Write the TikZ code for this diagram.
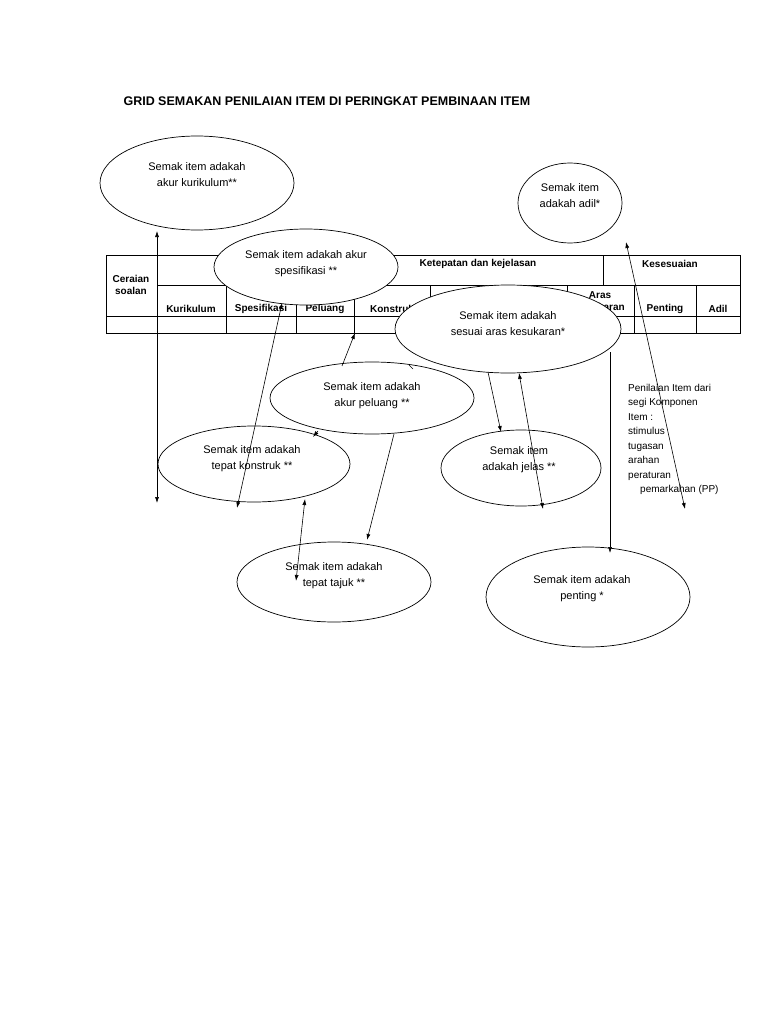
\documentclass[tikz,border=0pt]{standalone}
\usepackage{fontspec}
\setmainfont{Liberation Sans}
\usetikzlibrary{arrows.meta}
\begin{document}
\begin{tikzpicture}[x=1pt,y=-1pt,
  ell/.style={draw,fill=white,line width=0.7pt},
  lbl/.style={align=center,font=\fontsize{11}{16}\selectfont,inner sep=0pt},
  th/.style={font=\bfseries\fontsize{10}{12}\selectfont,inner sep=0pt,align=center},
  arr/.style={line width=0.6pt,-{Latex[length=6pt,width=4pt]}},
  darr/.style={line width=0.6pt,{Latex[length=6pt,width=4pt]}-{Latex[length=6pt,width=4pt]}}]
\useasboundingbox (0,0) rectangle (768,1024);
\fill[white] (0,0) rectangle (768,1024);
\node[font=\bfseries\fontsize{12.5}{14}\selectfont,anchor=west] (title) at (120,101) {GRID SEMAKAN PENILAIAN ITEM DI PERINGKAT PEMBINAAN ITEM};
% table
\draw[line width=0.8pt] (106,255) rectangle (740,333);
\draw (157,255) -- (157,333);
\draw (157,285) -- (740,285);
\draw (106,316) -- (740,316);
\draw (603,255) -- (603,285);
\foreach \x in {226,296,354,430,477,567,634,696} \draw (\x,285) -- (\x,333);
\node[th] (cer) at (131,285) {Ceraian\\soalan};
\node[th] (ket) at (478,264) {Ketepatan dan kejelasan};
\node[th] (kes) at (670,264) {Kesesuaian};
\node[th] (h1) at (191,309) {Kurikulum};
\node[th] (h2) at (261,309) {Spesifikasi};
\node[th] (h3) at (325,309) {Peluang};
\node[th] (h4) at (392,309) {Konstruk};
\node[th] (h5) at (453,309) {Tajuk};
\node[th] (h6) at (522,301) {Kejelasan};
\node[th] (h7) at (600,301) {Aras\\kesukaran};
\node[th] (h8) at (665,309) {Penting};
\node[th] (h9) at (718,309) {Adil};
% ellipses
\draw[ell] (197,183) ellipse [x radius=97,y radius=47];
\draw[ell] (570,203) ellipse [x radius=52,y radius=40];
\draw[ell] (306,267) ellipse [x radius=92,y radius=38];
\draw[ell] (508,329) ellipse [x radius=113,y radius=44];
\draw[ell] (372,398) ellipse [x radius=102,y radius=36];
\draw[ell] (254,464) ellipse [x radius=96,y radius=38];
\draw[ell] (521,468) ellipse [x radius=80,y radius=38];
\draw[ell] (334,582) ellipse [x radius=97,y radius=40];
\draw[ell] (588,597) ellipse [x radius=102,y radius=50];
\node[lbl] (kur) at (197,175) {Semak item adakah\\akur kurikulum**};
\node[lbl] (adil) at (570,196) {Semak item\\adakah adil*};
\node[lbl] (spes) at (306,264) {Semak item adakah akur\\spesifikasi **};
\node[lbl] (aras) at (508,324) {Semak item adakah\\sesuai aras kesukaran*};
\node[lbl] (pel) at (372,396) {Semak item adakah\\akur peluang **};
\node[lbl] (kon) at (252,459) {Semak item adakah\\tepat konstruk **};
\node[lbl] (jel) at (519,460) {Semak item\\adakah jelas **};
\node[lbl] (taj) at (334,576) {Semak item adakah\\tepat tajuk **};
\node[lbl] (pen) at (582,589) {Semak item adakah\\penting *};
\node[align=left,anchor=north west,font=\fontsize{10}{14.5}\selectfont,inner sep=0pt] (note) at (628,384)
 {Penilaian Item dari\\segi Komponen\\Item :\\stimulus\\tugasan\\arahan\\peraturan\\\hspace*{12pt}pemarkahan (PP)};
% arrows
\coordinate (a1) at (157,231); \coordinate (b1) at (157,503);
\draw[darr] (b1) -- (a1);
\coordinate (a2) at (282,303); \coordinate (b2) at (237,508);
\draw[darr] (b2) -- (a2);
\coordinate (a3) at (342,366); \coordinate (b3) at (355,333);
\draw[arr] (a3) -- (b3);
\coordinate (a4) at (318,431); \coordinate (b4) at (313,437);
\draw[arr] (a4) -- (b4);
\coordinate (a5) at (394,434); \coordinate (b5) at (367,540);
\draw[arr] (a5) -- (b5);
\draw[line width=0.6pt] (413,369) -- (409,365);
\coordinate (a6) at (488,372); \coordinate (b6) at (501,432);
\draw[arr] (a6) -- (b6);
\coordinate (a7) at (519,373); \coordinate (b7) at (543,509);
\draw[darr] (b7) -- (a7);
\coordinate (a8) at (610,352); \coordinate (b8) at (610,553);
\draw[arr] (a8) -- (b8);
\coordinate (a9) at (626,242); \coordinate (b9) at (685,509);
\draw[darr] (b9) -- (a9);
\coordinate (a10) at (305,499); \coordinate (b10) at (296,581);
\draw[darr] (b10) -- (a10);
\end{tikzpicture}
\end{document}
